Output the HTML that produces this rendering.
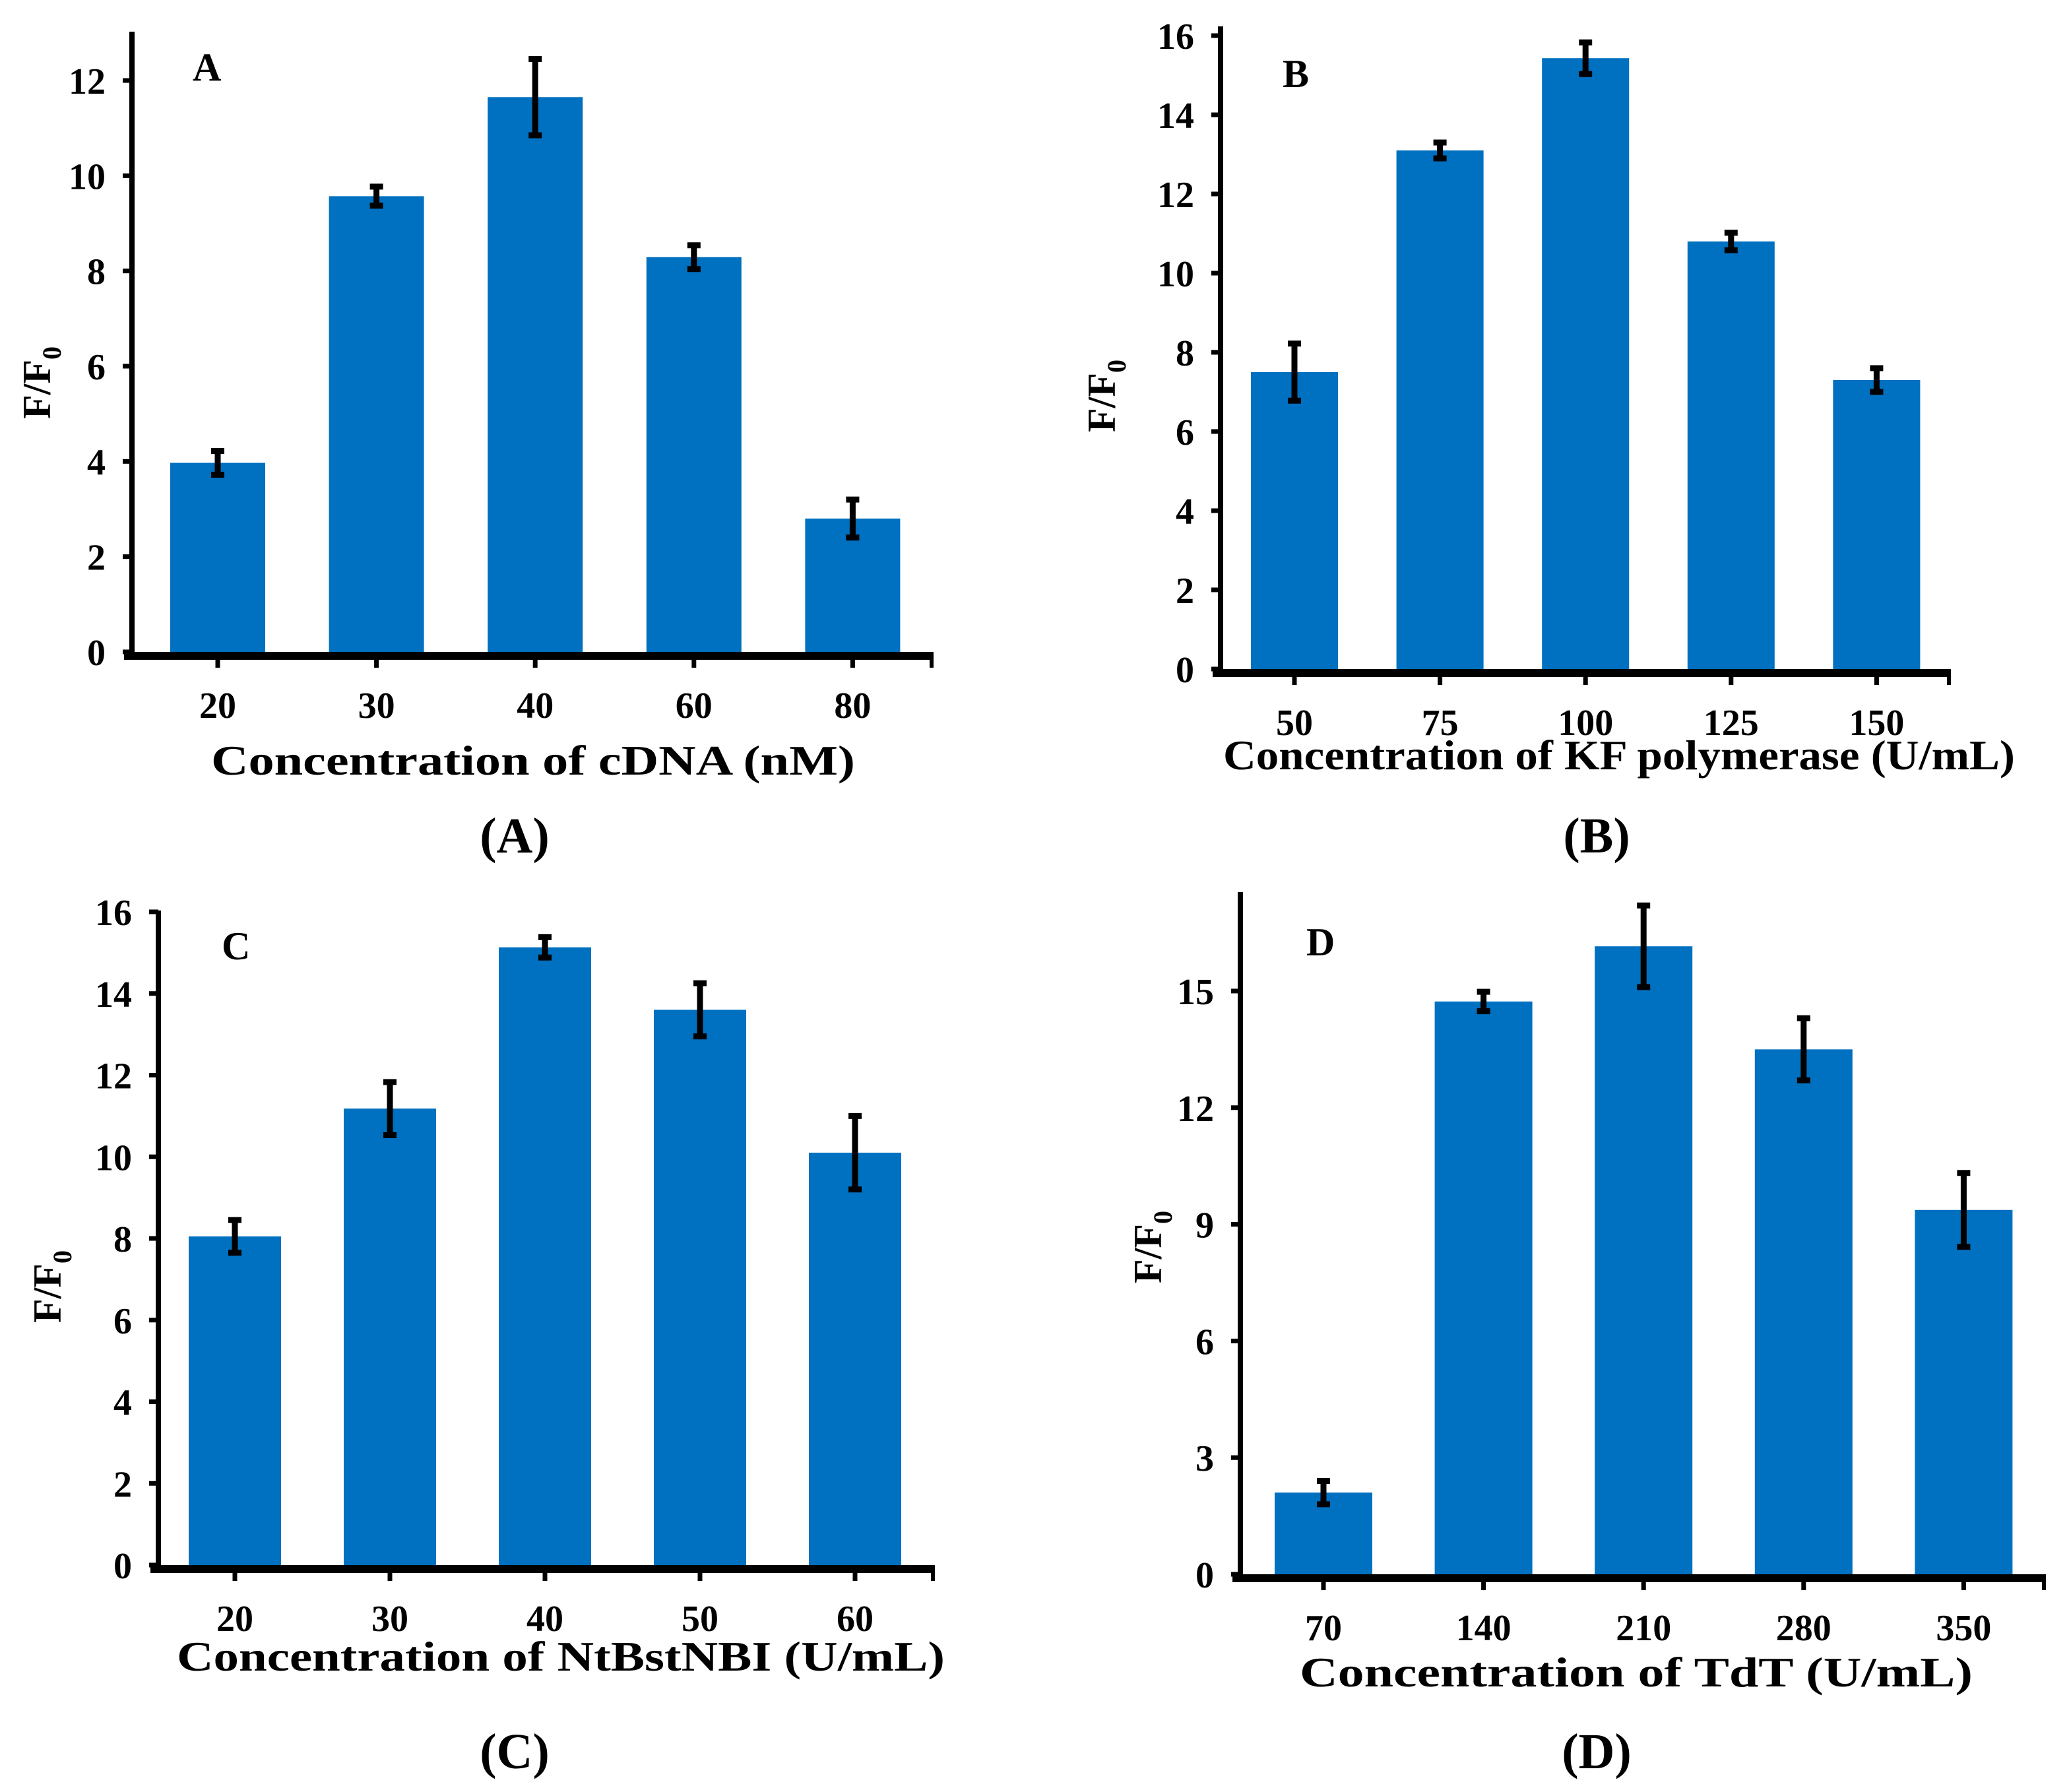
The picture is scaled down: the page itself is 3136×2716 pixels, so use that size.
<!DOCTYPE html>
<html><head><meta charset="utf-8"><style>
html,body{margin:0;padding:0;background:#fff;}
svg{display:block;}
text{font-family:"Liberation Serif",serif;font-weight:bold;fill:#000;}
</style></head><body>
<svg id="fig" width="3136" height="2716" viewBox="0 0 1568 1358" xmlns="http://www.w3.org/2000/svg"></svg>
<script>
// Panel A
const catsA = ["20","30","40","60","80"];
const valsA = [3.97, 9.57, 11.65, 8.29, 2.8];
const errA = [0.25, 0.2, 0.8, 0.25, 0.4];
const ticksA = [0,2,4,6,8,10,12];
// Panel B
const catsB = ["50","75","100","125","150"];
const valsB = [7.5, 13.1, 15.43, 10.8, 7.3];
const errB = [0.72, 0.2, 0.4, 0.22, 0.3];
const ticksB = [0,2,4,6,8,10,12,14,16];
// Panel C
const catsC = ["20","30","40","50","60"];
const valsC = [8.05, 11.18, 15.13, 13.6, 10.1];
const errC = [0.4, 0.65, 0.25, 0.65, 0.9];
const ticksC = [0,2,4,6,8,10,12,14,16];
// Panel D
const catsD = ["70","140","210","280","350"];
const valsD = [2.1, 14.73, 16.15, 13.5, 9.37];
const errD = [0.3, 0.25, 1.05, 0.8, 0.95];
const ticksD = [0,3,6,9,12,15];

const NS="http://www.w3.org/2000/svg";
const svg=document.getElementById('fig');
function mk(tag,attrs,parent){const e=document.createElementNS(NS,tag);for(const k in attrs)e.setAttribute(k,attrs[k]);(parent||svg).appendChild(e);return e;}

function panel(key,cfg,cats,vals,errs,ticks){
  const g=mk('g',{});
  
  
  const y=v=>cfg.y0-(v-0)*(cfg.y0-cfg.yTop)/(cfg.vTop);
  const x=i=>cfg.c0+i*cfg.step;
  vals.forEach((v,i)=>{
    const r=mk('rect',{x:x(i)-cfg.bw/2,y:y(v),width:cfg.bw,height:cfg.y0-y(v),fill:'#0070C0'},g);
    
    
    const e=errs[i];
    const eb=mk('g',{stroke:'#000','stroke-width':4.5},g);
    
    
    mk('line',{x1:x(i),x2:x(i),y1:y(v+e),y2:y(v-e)},eb);
    mk('line',{x1:x(i)-5,x2:x(i)+5,y1:y(v+e),y2:y(v+e)},eb);
    mk('line',{x1:x(i)-5,x2:x(i)+5,y1:y(v-e),y2:y(v-e)},eb);
  });
  const ya=mk('line',{x1:cfg.ax,x2:cfg.ax,y1:cfg.axTop,y2:cfg.y0+3,stroke:'#000','stroke-width':4},g);
  
  
  const xa=mk('line',{x1:cfg.ax-6,x2:cfg.xEnd,y1:cfg.y0+3,y2:cfg.y0+3,stroke:'#000','stroke-width':6},g);
  
  
  mk('line',{x1:cfg.xEnd-1,x2:cfg.xEnd-1,y1:cfg.y0,y2:cfg.y0+12,stroke:'#000','stroke-width':3},g);
  ticks.forEach(t=>{
    mk('line',{x1:cfg.ax-7,x2:cfg.ax,y1:y(t),y2:y(t),stroke:'#000','stroke-width':3.5},g);
    const tl=mk('text',{x:cfg.ax-20,y:y(t)+10,'font-size':28,'text-anchor':'end'},g);
    tl.textContent=t;
    
    
  });
  cats.forEach((c,i)=>{
    mk('line',{x1:x(i),x2:x(i),y1:cfg.y0+3,y2:cfg.y0+12,stroke:'#000','stroke-width':3.5},g);
    const tl=mk('text',{x:x(i),y:cfg.y0+50,'font-size':28,'text-anchor':'middle'},g);
    tl.textContent=c;
    
    
  });
  const xt=mk('text',{x:cfg.xtX,y:cfg.xtY,'font-size':32,'text-anchor':'middle',textLength:cfg.xtL,lengthAdjust:'spacingAndGlyphs'},g);
  xt.textContent=cfg.xtitle;
  
  
  const yt=mk('text',{transform:`translate(${cfg.ytX},${cfg.ytY}) rotate(-90)`,'font-size':30,'text-anchor':'middle'},g);
  yt.innerHTML='F/F<tspan font-size="20" dy="8">0</tspan>';
  
  
  const pl=mk('text',{x:cfg.plX,y:cfg.plY,'font-size':30},g);
  pl.textContent=key;
  
  
  const cap=mk('text',{x:cfg.capX,y:cfg.capY,'font-size':38,'text-anchor':'middle','font-weight':'normal'},g);
  cap.innerHTML='(<tspan font-weight="bold">'+key+'</tspan>)';
  
  
}

panel('A',{y0:494,yTop:61,vTop:12,ax:100,axTop:24,xEnd:707,c0:165,step:120.3,bw:72,
  xtitle:'Concentration of cDNA  (nM)',xtX:404,xtY:587,xtL:488,ytX:38,ytY:290,plX:146,plY:61,capX:390,capY:646},catsA,valsA,errA,ticksA);
panel('B',{y0:507,yTop:27,vTop:16,ax:925,axTop:20,xEnd:1478,c0:981,step:110.3,bw:66,
  xtitle:'Concentration of KF polymerase  (U/mL)',xtX:1227,xtY:583,xtL:600,ytX:845,ytY:300,plX:972,plY:66,capX:1210,capY:646},catsB,valsB,errB,ticksB);
panel('C',{y0:1186,yTop:691,vTop:16,ax:120,axTop:690,xEnd:708,c0:178,step:117.5,bw:70,
  xtitle:'Concentration of NtBstNBI (U/mL)',xtX:425,xtY:1266,xtL:582,ytX:46,ytY:975,plX:168,plY:727,capX:390,capY:1340},catsC,valsC,errC,ticksC);
panel('D',{y0:1193,yTop:751,vTop:15,ax:940,axTop:676,xEnd:1550,c0:1003,step:121.3,bw:74,
  xtitle:'Concentration of TdT  (U/mL)',xtX:1240,xtY:1278,xtL:510,ytX:880,ytY:945,plX:990,plY:724,capX:1210,capY:1340},catsD,valsD,errD,ticksD);
</script>
</body></html>
